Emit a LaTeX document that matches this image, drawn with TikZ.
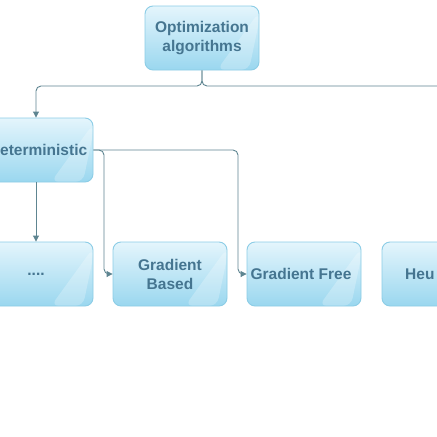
\documentclass[tikz,border=0pt]{standalone}
\usepackage{fontspec}
\setmainfont{Liberation Sans}
\usetikzlibrary{arrows.meta}
\definecolor{boxtop}{HTML}{E4F5FC}
\definecolor{boxbot}{HTML}{9AD7EF}
\definecolor{boxline}{HTML}{8CCDE6}
\definecolor{txt}{HTML}{457590}
\definecolor{conn}{HTML}{5E8591}
\tikzset{
  cbox/.style={minimum width=114pt, minimum height=64pt, rounded corners=8pt,
    draw=boxline, line width=0.9pt, top color=boxtop, bottom color=boxbot,
    path picture={
      \fill[white,opacity=0.25]
        ([xshift=-42pt]path picture bounding box.south east) --
        ([xshift=-10pt]path picture bounding box.south east) --
        ([yshift=-16pt]path picture bounding box.north east) --
        ([yshift=-6pt]path picture bounding box.north east) -- cycle;
    }},
  ctext/.style={text=txt, font=\fontsize{15.5}{19}\selectfont\bfseries, align=center, inner sep=0pt},
  conn/.style={draw=conn, line width=0.9pt, rounded corners=5pt},
  arr/.style={-{Triangle[length=6pt,width=6pt]}}
}
\begin{document}
\begin{tikzpicture}[x=1pt,y=-1pt]
\useasboundingbox (0,0) rectangle (437,437);
\clip (0,0) rectangle (437,437);
\fill[white] (0,0) rectangle (437,437);
% boxes
\node[cbox] (top) at (202,38) {};
\node[ctext] (toptxt) at (202,38) {Optimization\\algorithms};
\node[cbox] (det) at (36,150) {};
\node[ctext, anchor=west] (dettxt) at (0,150) {eterministic};
\node[cbox] (dots) at (36,274) {};
\node[ctext] (dotstxt) at (36,274) {....};
\node[cbox] (gb) at (170,274) {};
\node[ctext] (gbtxt) at (170,274) {Gradient\\Based};
\node[cbox] (gf) at (304,274) {};
\node[ctext] (gftxt) at (301,274) {Gradient Free};
\node[cbox] (heu) at (439,274) {};
\node[ctext, anchor=west] (heutxt) at (405,274) {Heu};
% connectors
\coordinate (rend) at (440,86);
\draw[conn] (top.south) |- (rend);
\draw[conn,arr] (top.south) |- (36,86) -- (det.north);
\draw[conn,arr] (det.south) -- (dots.north);
\draw[conn,arr] (det.east) -| (104,274) -- (gb.west);
\draw[conn,arr] (det.east) -| (238,274) -- (gf.west);
\end{tikzpicture}
\end{document}
